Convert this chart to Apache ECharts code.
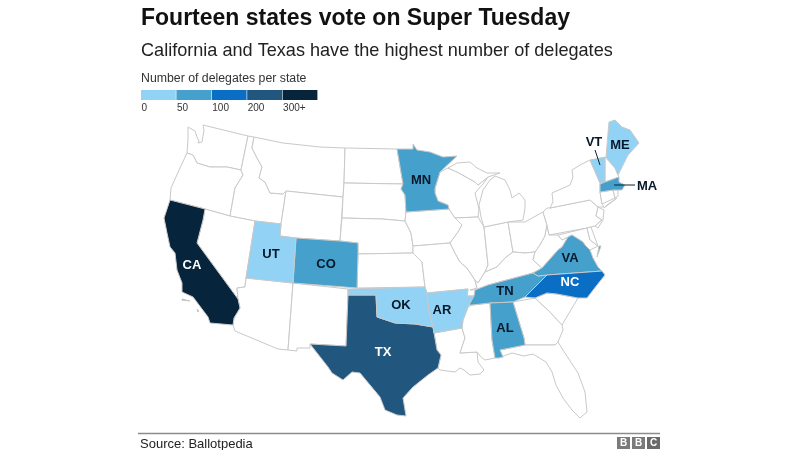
<!DOCTYPE html>
<html>
<head>
<meta charset="utf-8">
<title>Super Tuesday</title>
<style>
html,body{margin:0;padding:0;background:#fff}
#main{width:800px;height:450px}
</style>
<script src="https://cdn.jsdelivr.net/npm/echarts@6/dist/echarts.min.js"></script>
</head>
<body>
<div id="main"></div>
<script>
// 数据
var stateCodes = ['CA', 'TX', 'NC', 'VA', 'MA', 'MN', 'CO', 'TN', 'AL', 'OK', 'AR', 'UT', 'ME', 'VT'];
var delegates = [415, 228, 110, 99, 91, 75, 67, 64, 52, 37, 31, 26, 24, 16];
var legendTicks = ['0', '50', '100', '200', '300+'];
var legendBreaks = [0, 50, 100, 200, 300];
var legendColors = ['#92d2f4', '#45a0cc', '#0b6ec5', '#21567e', '#06243b'];

// 没有离线地图文件，州界按参考图手工描出来（图片像素坐标）
var stateShapes = {
    WA: [[[188,127],[195,131],[197,137],[199,141],[198,143],[202,142],[204,130],[203,125],[248,136],[241,170],[227,167],[210,167],[197,163],[193,155],[187,153],[188,140]]],
    OR: [[[187,153],[193,155],[197,163],[210,167],[227,167],[241,170],[243,175],[235,188],[230,216],[205,209],[170,200],[171,188],[180,168]]],
    ID: [[[248,136],[254,137],[252,148],[257,158],[262,167],[259,178],[265,182],[270,193],[283,194],[286,191],[281,224],[255,221],[230,216],[235,188],[243,175],[241,170]]],
    MT: [[[254,137],[283,143],[320,147],[345,148],[344,183],[343,197],[286,191],[283,194],[270,193],[265,182],[259,178],[262,167],[257,158],[252,148]]],
    WY: [[[286,191],[343,197],[340,241],[296,238],[280,236],[281,224]]],
    NV: [[[205,209],[230,216],[255,221],[246,278],[245,287],[237,288],[238,299],[197,243],[203,220]]],
    AZ: [[[246,278],[293,283],[288,350],[278,349],[235,331],[233,325],[234,318],[240,308],[238,299],[237,288],[245,287]]],
    NM: [[[293,283],[348,289],[348,295],[346,346],[310,344],[310,348],[297,348],[297,351],[288,350]]],
    ND: [[[345,148],[397,149],[403,184],[344,183]]],
    SD: [[[344,183],[403,184],[401,189],[405,195],[406,212],[405,221],[382,219],[342,218],[343,197]]],
    NE: [[[342,218],[382,219],[405,221],[411,233],[413,246],[413,253],[358,254],[358,243],[340,241]]],
    KS: [[[358,254],[413,253],[418,258],[422,262],[425,287],[357,288]]],
    IA: [[[406,212],[449,209],[455,218],[462,225],[458,232],[450,243],[413,246],[411,233],[405,221]]],
    MO: [[[413,246],[450,243],[455,253],[460,262],[467,268],[475,280],[477,288],[474,296],[467,296],[468,289],[427,293],[425,287],[422,262],[418,258],[413,253]]],
    WI: [[[440,172],[448,168],[457,172],[475,182],[478,185],[488,177],[483,184],[475,193],[479,209],[478,217],[455,218],[449,209],[448,205],[438,201],[435,193],[435,188]]],
    IL: [[[455,218],[478,217],[484,227],[488,265],[485,272],[478,283],[475,280],[467,268],[460,262],[455,253],[450,243],[458,232],[462,225]]],
    IN: [[[484,227],[508,222],[513,252],[505,258],[497,267],[485,272],[488,265]]],
    MI: [[[484,227],[508,222],[523,220],[525,208],[525,200],[519,193],[512,198],[510,190],[505,180],[495,176],[490,180],[483,190],[479,205],[481,217]],
        [[448,168],[457,163],[470,162],[477,168],[487,173],[500,173],[488,177],[478,185],[475,182],[457,172]]],
    OH: [[[508,222],[525,222],[543,212],[547,225],[545,236],[540,245],[535,252],[525,253],[513,252]]],
    KY: [[[475,280],[478,283],[485,272],[497,267],[505,258],[513,252],[525,253],[535,252],[533,260],[542,268],[533,273],[488,285],[475,290],[470,290],[477,288]]],
    WV: [[[545,236],[547,225],[549,235],[558,235],[562,240],[568,237],[562,247],[558,250],[542,268],[533,260],[535,252],[540,245]]],
    PA: [[[543,212],[547,208],[550,208],[590,200],[598,207],[596,216],[602,220],[595,226],[587,228],[549,235],[547,225]]],
    NY: [[[550,208],[553,202],[552,193],[570,185],[573,177],[572,170],[580,165],[590,160],[600,183],[600,192],[602,204],[604,207],[598,207],[590,200]],
        [[604,208],[617,198],[607,205]]],
    NJ: [[[598,207],[604,210],[603,220],[598,228],[595,226],[602,220],[596,216]]],
    MD: [[[558,235],[587,228],[590,240],[598,246],[590,250],[585,245],[583,242],[572,235],[568,237],[562,240]]],
    DE: [[[587,228],[591,227],[595,238],[598,246],[590,240]]],
    NH: [[[605,157],[606,157],[615,168],[618,175],[619,177],[605,182]]],
    CT: [[[600,192],[613,190],[615,198],[602,204]]],
    RI: [[[613,190],[618,190],[618,196],[615,198]]],
    LA: [[[434,333],[462,328],[465,338],[460,353],[477,352],[478,362],[484,370],[480,374],[470,375],[464,370],[460,368],[455,372],[440,370],[438,368],[441,355],[437,350]]],
    MS: [[[472,305],[490,303],[492,340],[495,358],[485,360],[480,356],[477,352],[460,353],[465,338],[462,328],[463,320],[468,307]]],
    GA: [[[513,302],[535,298],[550,312],[562,325],[563,330],[558,342],[555,345],[525,345],[524,338]]],
    SC: [[[535,298],[547,293],[557,294],[578,298],[562,325],[550,312]]],
    FL: [[[498,358],[503,357],[500,350],[525,345],[555,345],[558,342],[563,350],[578,373],[585,392],[587,412],[580,418],[572,410],[563,398],[556,385],[552,372],[546,362],[533,354],[524,356],[512,353]]],
    CA: [[[170,200],[205,209],[203,220],[197,243],[238,299],[240,308],[234,318],[233,325],[210,323],[208,317],[193,297],[182,292],[182,283],[177,270],[175,253],[170,247],[167,233],[164,218]],
         [[182,299],[190,301],[189,302],[182,300]],
         [[197,309],[199,311],[198,312]]],
    TX: [[[348,295],[376,295],[377,317],[395,323],[415,324],[433,327],[434,333],[437,350],[441,355],[438,368],[428,375],[413,387],[403,398],[406,416],[397,415],[385,410],[380,397],[370,385],[360,373],[352,372],[343,380],[332,373],[328,367],[310,344],[346,346]]],
    OK: [[[348,289],[425,287],[427,293],[429,312],[433,327],[415,324],[395,323],[377,317],[376,295],[348,295]]],
    AR: [[[427,293],[468,289],[467,296],[474,296],[468,307],[463,320],[462,328],[434,333],[433,327],[429,312]]],
    CO: [[[296,238],[340,241],[358,243],[358,254],[357,288],[293,283]]],
    UT: [[[255,221],[281,224],[280,236],[296,238],[293,283],[246,278]]],
    MN: [[[397,149],[413,149],[413,144],[417,150],[430,152],[443,157],[457,156],[440,172],[435,188],[435,193],[438,201],[448,205],[449,209],[406,212],[405,195],[401,189],[403,184]]],
    TN: [[[469,305],[474,296],[475,290],[488,285],[533,273],[538,276],[547,275],[530,292],[525,297],[513,302],[490,303],[472,305]]],
    AL: [[[490,303],[513,302],[524,338],[525,345],[500,350],[503,357],[498,358],[495,358],[492,340]]],
    VA: [[[533,273],[542,268],[558,250],[562,247],[568,237],[572,235],[583,242],[585,245],[590,250],[593,258],[598,267],[602,271],[547,275],[538,276]],
         [[599,246],[601,246],[597,257]]],
    NC: [[[547,275],[602,271],[605,275],[597,285],[587,298],[578,298],[557,294],[547,293],[535,298],[525,297],[530,292]]],
    VT: [[[590,160],[605,157],[605,182],[600,183]]],
    ME: [[[609,122],[615,120],[622,127],[630,130],[639,143],[628,155],[618,175],[615,168],[606,157]]],
    MA: [[[600,184],[605,182],[619,177],[619,182],[625,185],[622,190],[618,190],[613,190],[600,192]]]
};
// 标签放置位置
var labelSpots = {
    CA: [192,265], TX: [383,352], NC: [570,282], VA: [570,258], MA: [647,186], MN: [421,180], CO: [326,264],
    TN: [505,291], AL: [505,328], OK: [401,305], AR: [442,310], UT: [271,254], ME: [620,145], VT: [594,142]
};
// 引线
var leaderLines = [
    [[595,150],[600,165]],
    [[614,185],[635,185]]
];

var features = Object.keys(stateShapes).map(function(code) {
    return {
        type: 'Feature',
        properties: { name: code },
        geometry: { type: 'MultiPolygon', coordinates: stateShapes[code].map(function(ring) { return [ring]; }) }
    };
});
echarts.registerMap('usTraced', { type: 'FeatureCollection', features: features });

var mapData = stateCodes.map(function(code, i) {
    return { name: code, value: delegates[i] };
});

var whiteLabels = ['CA', 'TX', 'NC'];
var labelData = stateCodes.map(function(code) {
    return {
        name: code,
        value: labelSpots[code],
        label: { color: whiteLabels.indexOf(code) >= 0 ? '#fff' : '#06182a' }
    };
});

var pieces = legendBreaks.map(function(b, i) {
    var p = { gte: b, color: legendColors[i] };
    if (i < legendBreaks.length - 1) p.lt = legendBreaks[i + 1];
    return p;
});

// 图例色条和底部
var legendX = 141, legendY = 90, legendW = 35.4, legendH = 10;
var graphics = [];
legendColors.forEach(function(c, i) {
    graphics.push({
        type: 'rect',
        shape: { x: legendX + i * legendW, y: legendY, width: legendW - 0.6, height: legendH },
        style: { fill: c }
    });
    graphics.push({
        type: 'text',
        x: legendX + i * legendW + 0.5, y: 103,
        style: { text: legendTicks[i], fill: '#333', font: '10px "Liberation Sans"' }
    });
});
graphics.push({ type: 'line', shape: { x1: 138, y1: 433.5, x2: 660, y2: 433.5 }, style: { stroke: '#8c8c8c', lineWidth: 1.5 } });
['B', 'B', 'C'].forEach(function(ch, i) {
    graphics.push({ type: 'rect', shape: { x: 617 + i * 15, y: 437, width: 13, height: 12 }, style: { fill: i == 2 ? '#6a6a6a' : '#7a7a7a' } });
    graphics.push({
        type: 'text', x: 623.5 + i * 15, y: 443,
        style: { text: ch, fill: '#fff', font: 'bold 10px "Liberation Sans"', align: 'center', verticalAlign: 'middle' }
    });
});

var myChart = echarts.init(document.getElementById('main'));
var option = {
    animation: false,
    backgroundColor: '#fff',
    title: [
        { text: 'Fourteen states vote on Super Tuesday', left: 136, top: 2, textStyle: { fontFamily: 'Liberation Sans', fontSize: 23, fontWeight: 'bold', color: '#111' } },
        { text: 'California and Texas have the highest number of delegates', left: 136, top: 37, textStyle: { fontFamily: 'Liberation Sans', fontSize: 18.1, fontWeight: 'normal', color: '#222' } },
        { text: 'Number of delegates per state', left: 136, top: 68, textStyle: { fontFamily: 'Liberation Sans', fontSize: 12.3, fontWeight: 'normal', color: '#333' } },
        { text: 'Source: Ballotpedia', left: 135, top: 433, textStyle: { fontFamily: 'Liberation Sans', fontSize: 13, fontWeight: 'normal', color: '#222' } }
    ],
    visualMap: { show: false, type: 'piecewise', pieces: pieces, seriesIndex: 0 },
    geo: {
        map: 'usTraced',
        silent: true,
        projection: { project: function(p) { return p; }, unproject: function(p) { return p; } },
        boundingCoords: [[0, 0], [800, 450]],
        left: 0, top: 0, width: 800, height: 450,
        itemStyle: { areaColor: '#fff', borderColor: '#c9c9c9', borderWidth: 1 }
    },
    series: [
        {
            type: 'map',
            geoIndex: 0,
            silent: true,
            data: mapData
        },
        {
            type: 'lines',
            coordinateSystem: 'geo',
            silent: true,
            polyline: true,
            lineStyle: { color: '#0a2236', width: 1, opacity: 1 },
            data: leaderLines.map(function(l) { return { coords: l }; })
        },
        {
            // 州名标签
            type: 'scatter',
            coordinateSystem: 'geo',
            silent: true,
            symbolSize: 0,
            itemStyle: { opacity: 1 },
            label: {
                show: true,
                position: 'inside',
                formatter: '{b}',
                fontFamily: 'Liberation Sans',
                fontSize: 13,
                fontWeight: 'bold',
                opacity: 1
            },
            data: labelData
        }
    ],
    graphic: graphics
};
myChart.setOption(option);
</script>
</body>
</html>
